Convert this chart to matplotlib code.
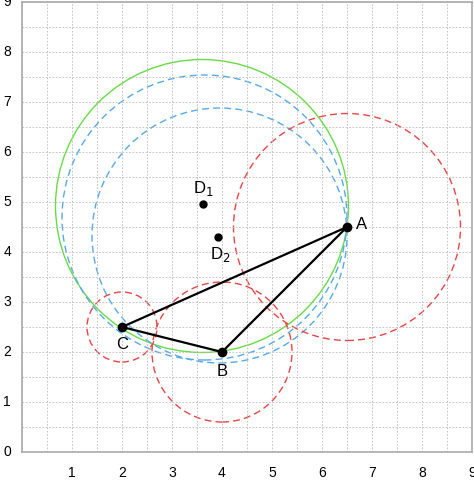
import numpy as np
import matplotlib
matplotlib.use('Agg')
import matplotlib.pyplot as plt
from matplotlib.patches import Circle

plt.rcParams['font.family'] = ['Liberation Sans', 'DejaVu Sans']

# triangle vertices
pts_x = [6.5, 4.0, 2.0]
pts_y = [4.5, 2.0, 2.5]
pt_names = ['A', 'B', 'C']
# red circles around vertices (radius)
red_r = [2.27, 1.4, 0.7]
# other centres
d_x = [3.62, 3.92]
d_y = [4.96, 4.3]
# blue dashed circles: (cx, cy, r)
blue_cx = [3.65, 3.95]
blue_cy = [4.69, 4.33]
blue_r = [2.85, 2.55]
green_c = (3.6, 4.92, 2.93)

fig = plt.figure(figsize=(4.74, 4.82), dpi=100)
ax = fig.add_axes([22/474, 30/482, 450/474, 450/482])
ax.set_xlim(0, 9)
ax.set_ylim(0, 9)
ax.set_aspect('auto')

ax.set_xticks(np.arange(0, 9.01, 0.5), minor=False)
ax.set_yticks(np.arange(0, 9.01, 0.5))
ax.grid(True, color='#bbbbbb', linestyle=(0, (2, 2)), linewidth=0.6)
ax.tick_params(length=0, labelbottom=False, labelleft=False)
for s in ax.spines.values():
    s.set_color('#aaaaaa')
    s.set_linewidth(1.2)

for i in range(1, 10):
    ax.text(i, -0.42, str(i), ha='center', va='center', fontsize=10)
for i in range(0, 10):
    ax.text(-0.3, i, str(i), ha='center', va='center', fontsize=10)

ax.add_patch(Circle(green_c[:2], green_c[2], fill=False, color='#66dd44', lw=1))
for cx, cy, r in zip(blue_cx, blue_cy, blue_r):
    ax.add_patch(Circle((cx, cy), r, fill=False, color='#55aaee', lw=1, linestyle=(0, (5, 3))))
for x, y, r in zip(pts_x, pts_y, red_r):
    ax.add_patch(Circle((x, y), r, fill=False, color='#ee4444', lw=1, linestyle=(0, (5, 3))))

ax.plot(pts_x + pts_x[:1], pts_y + pts_y[:1], color='black', lw=1.6)
ax.plot(pts_x, pts_y, 'o', color='black', ms=6)
ax.plot(d_x, d_y, 'o', color='black', ms=5)

offs = [(0.3, 0.05), (0.0, -0.38), (0.0, -0.35)]
for x, y, n, (dx, dy) in zip(pts_x, pts_y, pt_names, offs):
    ax.text(x + dx, y + dy, n, ha='center', va='center', fontsize=12)
ax.text(d_x[0], d_y[0] + 0.32, r'D$_1$', ha='center', va='center', fontsize=12)
ax.text(d_x[1] + 0.05, d_y[1] - 0.36, r'D$_2$', ha='center', va='center', fontsize=12)

fig.savefig('out.png')
